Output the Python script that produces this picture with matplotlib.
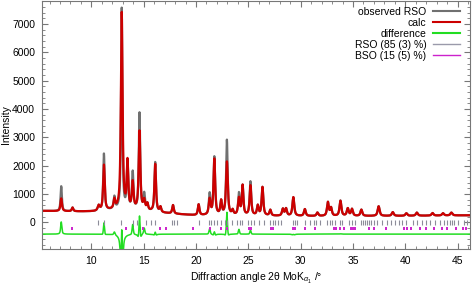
import numpy as np
import matplotlib
matplotlib.use("Agg")
import matplotlib.pyplot as plt
from matplotlib.ticker import MultipleLocator
from matplotlib.lines import Line2D

plt.rcParams['font.family'] = ['Liberation Sans', 'DejaVu Sans']
plt.rcParams['mathtext.fontset'] = 'custom'
plt.rcParams['mathtext.rm'] = 'Liberation Sans'
plt.rcParams['mathtext.it'] = 'Liberation Sans:italic'

# background (2theta, intensity)
bg_pos = [5.3, 7.0, 9.0, 10.3, 11.0, 12.0, 13.0, 14.0, 15.0, 16.0, 17.0, 18.0, 20.0, 22.0, 25.0, 28.0, 32.0, 36.0, 40.0, 46.2]
bg_int = [400, 390, 380, 380, 400, 430, 430, 420, 400, 360, 320, 290, 240, 240, 230, 220, 215, 220, 225, 245]

# reflections: position, observed height, calculated height, widths
peak_pos = [7.12, 8.2, 10.7, 11.2, 12.2, 12.9, 13.45, 13.95, 14.6, 15.05, 15.35, 16.1, 16.6, 17.8,
            20.25, 21.3, 21.75, 22.4, 22.95, 23.5, 24.1, 24.45, 25.2, 25.9, 26.35, 27.1, 28.3, 28.6,
            29.3, 30.4, 31.6, 32.6, 32.9, 33.8, 34.5, 34.9, 35.8, 37.45, 38.8, 40.1, 41.1, 42.6, 43.6, 44.4]
obs_height = [880, 130, 180, 2000, 430, 7100, 1650, 1300, 3420, 560, 230, 1750, 180, 300,
              380, 750, 2050, 480, 2650, 160, 760, 1040, 1190, 340, 1000, 200, 240, 250,
              650, 240, 120, 480, 280, 540, 260, 240, 220, 340, 130, 90, 110, 90, 80, 100]
calc_height = [450, 130, 180, 1600, 320, 6950, 1650, 940, 2780, 330, 230, 1680, 180, 300,
               380, 550, 1970, 480, 1880, 160, 590, 1040, 1050, 340, 1000, 200, 240, 250,
               660, 240, 120, 480, 280, 530, 260, 240, 220, 340, 130, 90, 110, 90, 80, 100]
obs_width = [0.15, 0.17, 0.22, 0.16, 0.17, 0.15, 0.17, 0.17, 0.16, 0.17, 0.17, 0.17, 0.17, 0.18,
             0.18, 0.18, 0.18, 0.18, 0.17, 0.18, 0.18, 0.18, 0.18, 0.19, 0.19, 0.19, 0.2, 0.2,
             0.2, 0.2, 0.2, 0.2, 0.2, 0.21, 0.21, 0.21, 0.21, 0.22, 0.22, 0.22, 0.22, 0.22, 0.22, 0.22]
calc_width = [0.17, 0.17, 0.22, 0.18, 0.18, 0.19, 0.17, 0.19, 0.19, 0.19, 0.17, 0.18, 0.17, 0.18,
              0.18, 0.2, 0.19, 0.18, 0.21, 0.18, 0.2, 0.18, 0.19, 0.19, 0.19, 0.19, 0.2, 0.2,
              0.21, 0.2, 0.2, 0.2, 0.2, 0.21, 0.21, 0.21, 0.21, 0.22, 0.22, 0.22, 0.22, 0.22, 0.22, 0.22]

# reflection markers
rso_ticks = [10.64, 11.17, 12.87, 13.98, 14.36, 15.19, 15.73, 16.05, 17.71, 17.93, 18.19,
             20.25, 21.2, 21.43, 21.68, 22.0, 22.42, 22.73, 22.96, 23.44, 23.92, 24.16, 24.39,
             24.97, 25.25, 25.57, 26.04, 26.46, 27.03, 27.35, 27.57, 27.79, 28.15, 29.26, 29.48,
             29.64, 30.44, 30.85, 31.23, 31.49, 31.87, 32.51, 32.76, 32.99, 33.24, 33.72, 33.94,
             34.58, 34.9, 35.21, 35.79, 35.95, 36.17, 36.33, 36.55, 36.74, 36.96, 37.29, 37.76,
             38.24, 38.62, 39.04, 39.35, 39.67, 40.06, 40.72, 41.11, 41.59, 42.0, 42.38, 42.86,
             43.33, 43.65, 43.97, 44.29, 44.45, 44.67, 45.08, 45.56, 45.88]
bso_ticks = [8.16, 13.34, 14.93, 16.53, 17.16, 19.71, 21.3, 22.39, 22.96, 25.09, 25.25, 27.19,
             27.35, 29.26, 29.42, 30.44, 31.39, 33.14, 33.4, 33.72, 34.1, 34.8, 35.0, 35.21,
             36.49, 37.03, 38.18, 39.83, 40.15, 40.56, 41.42, 42.0, 42.7, 43.5, 43.97, 44.86,
             45.5, 45.82]

diff_offset = -420


def profile(x, pos, height, width):
    y = np.interp(x, bg_pos, bg_int).astype(float)
    for p, h, w in zip(pos, height, width):
        g = w / 2.0
        lor = g ** 2 / ((x - p) ** 2 + g ** 2)
        gau = np.exp(-np.log(2) * ((x - p) / g) ** 2)
        y += h * (0.75 * lor + 0.25 * gau)
    return y


x = np.arange(5.3, 46.2, 0.005)
obs = profile(x, peak_pos, obs_height, obs_width)
calc = profile(x, peak_pos, calc_height, calc_width)
diff = obs - calc + diff_offset

fig = plt.figure(figsize=(4.74, 2.87), dpi=100)
ax = fig.add_axes([0.089, 0.132, 0.903, 0.866])

ax.plot(x, obs, color='#707070', lw=1.6)
ax.plot(x, calc, color='#cc0000', lw=1.6)
ax.plot(x, diff, color='#22dd22', lw=1.1)
ax.vlines(rso_ticks, -90, 90, color='#8c8c99', lw=0.8)
ax.vlines(bso_ticks, -280, -170, color='#cc22cc', lw=1.4)

ax.set_xlim(5.3, 46.2)
ax.set_ylim(-950, 7830)
ax.xaxis.set_major_locator(MultipleLocator(5))
ax.xaxis.set_minor_locator(MultipleLocator(1))
ax.yaxis.set_major_locator(MultipleLocator(1000))
ax.yaxis.set_minor_locator(MultipleLocator(200))
ax.tick_params(which='both', direction='in', top=True, right=True, color='#777777', labelsize=7.5)
ax.tick_params(which='major', length=4, pad=5)
ax.tick_params(which='minor', length=2)
for s in ax.spines.values():
    s.set_color('#777777')
    s.set_linewidth(0.8)

ax.set_xlabel(r'Diffraction angle 2θ MoK$_{\alpha_1}$ /°', fontsize=7.5, labelpad=3.5)
ax.set_ylabel('Intensity', fontsize=7.5, labelpad=1)

handles = [Line2D([], [], color='#707070', lw=1.5),
           Line2D([], [], color='#cc0000', lw=1.5),
           Line2D([], [], color='#22dd22', lw=1.5),
           Line2D([], [], color='#9a9aaa', lw=1.0),
           Line2D([], [], color='#cc22cc', lw=1.0)]
labels = ['observed RSO', 'calc', 'difference', 'RSO (85 (3) %)', 'BSO (15 (5) %)']
ax.legend(handles, labels, loc='upper right', bbox_to_anchor=(0.99, 1.0), frameon=False,
          markerfirst=False, fontsize=7.5, handlelength=2.6, labelspacing=0.1,
          borderaxespad=0.2, handletextpad=0.6)

fig.savefig('out.png', dpi=100)
